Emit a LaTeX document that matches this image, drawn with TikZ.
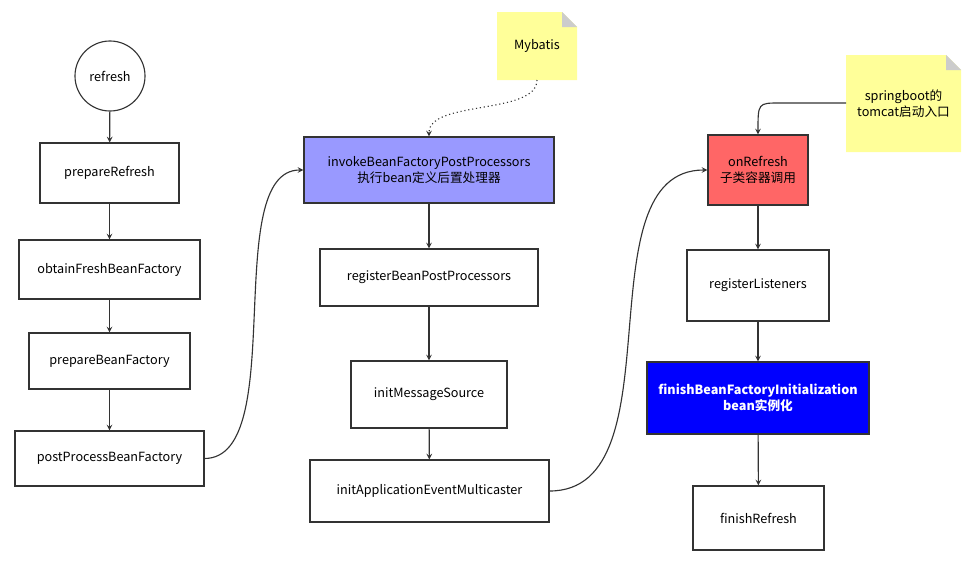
\documentclass[tikz,border=0pt]{standalone}
\usepackage{fontspec}
\setmainfont{Noto Sans CJK SC}
\usetikzlibrary{shapes.geometric}
\definecolor{notefill}{HTML}{FFFF99}
\definecolor{invokefill}{HTML}{9999FF}
\definecolor{refreshfill}{HTML}{FF6666}
\tikzset{
  box/.style={draw=black!80, thick, fill=white, align=center, font=\fontsize{9}{11}\selectfont, inner sep=1pt},
  flow/.style={->, >=stealth, thick, black!80},
}
\newcommand{\notebox}[5]{% x1 y1 x2 y2 name
  \fill[notefill] (#1,#2) -- (#3-15,#2) -- (#3,#2+15) -- (#3,#4) -- (#1,#4) -- cycle;
  \fill[black!20] (#3-15,#2) -- (#3,#2+15) -- (#3-15,#2+15) -- cycle;
  \coordinate (#5) at ({(#1+#3)/2},{(#2+#4)/2});
}
\begin{document}
\begin{tikzpicture}[x=0.025cm, y=-0.025cm]
  \useasboundingbox[fill=white] (0,0) rectangle (976,566);
  % left column
  \node[box, circle, minimum size=1.75cm] (refresh) at (110,76) {refresh};
  \node[box, minimum width=3.475cm, minimum height=1.5cm] (prep) at (109.5,173) {prepareRefresh};
  \node[box, minimum width=4.525cm, minimum height=1.475cm] (obtain) at (109.5,269.5) {obtainFreshBeanFactory};
  \node[box, minimum width=4.025cm, minimum height=1.4cm] (prepbf) at (109.5,361) {prepareBeanFactory};
  \node[box, minimum width=4.725cm, minimum height=1.375cm] (post) at (109.5,458.5) {postProcessBeanFactory};
  % middle column
  \node[box, fill=invokefill, minimum width=6.25cm, minimum height=1.65cm] (invoke) at (429,170) {invokeBeanFactoryPostProcessors\\执行bean定义后置处理器};
  \node[box, minimum width=5.45cm, minimum height=1.425cm] (regbpp) at (429,277.5) {registerBeanPostProcessors};
  \node[box, minimum width=3.9cm, minimum height=1.675cm] (initms) at (429,394.5) {initMessageSource};
  \node[box, minimum width=5.975cm, minimum height=1.55cm] (initaem) at (429.5,491) {initApplicationEventMulticaster};
  % right column
  \node[box, fill=refreshfill, minimum width=2.5cm, minimum height=1.75cm] (onref) at (758,170) {onRefresh\\子类容器调用};
  \node[box, minimum width=3.55cm, minimum height=1.775cm] (reglis) at (758,285.5) {registerListeners};
  \node[box, fill=blue, text=white, font=\fontsize{9}{11}\selectfont\bfseries, minimum width=5.55cm, minimum height=1.8cm] (finbf) at (758,398) {finishBeanFactoryInitialization\\bean实例化};
  \node[box, minimum width=3.275cm, minimum height=1.6cm] (finref) at (758.5,518) {finishRefresh};
  % notes
  \notebox{497}{12}{577}{80}{mybatisnote}
  \node[font=\fontsize{9}{11}\selectfont] (mybatis) at (mybatisnote) {Mybatis};
  \notebox{846}{55}{961}{152}{springnote}
  \node[font=\fontsize{9}{11}\selectfont, align=center] (spring) at (springnote) {springboot的\\tomcat启动入口};
  % connectors
  \draw[flow] (refresh) -- (prep);
  \draw[flow] (prep) -- (obtain);
  \draw[flow] (obtain) -- (prepbf);
  \draw[flow] (prepbf) -- (post);
  \draw[flow] (post.east) .. controls (290,458) and (220,170) .. (invoke.west);
  \draw[flow] (invoke) -- (regbpp);
  \draw[flow] (regbpp) -- (initms);
  \draw[flow] (initms) -- (initaem);
  \draw[flow] (initaem.east) .. controls (680,491) and (580,170) .. (onref.west);
  \draw[flow] (onref) -- (reglis);
  \draw[flow] (reglis) -- (finbf);
  \draw[flow] (finbf) -- (finref);
  \draw[flow, dotted] (537,80) .. controls (537,115) and (429,100) .. (invoke.north);
  \draw[flow] (846,103) -- (780,103) .. controls (758,103) .. (onref.north);
\end{tikzpicture}
\end{document}
